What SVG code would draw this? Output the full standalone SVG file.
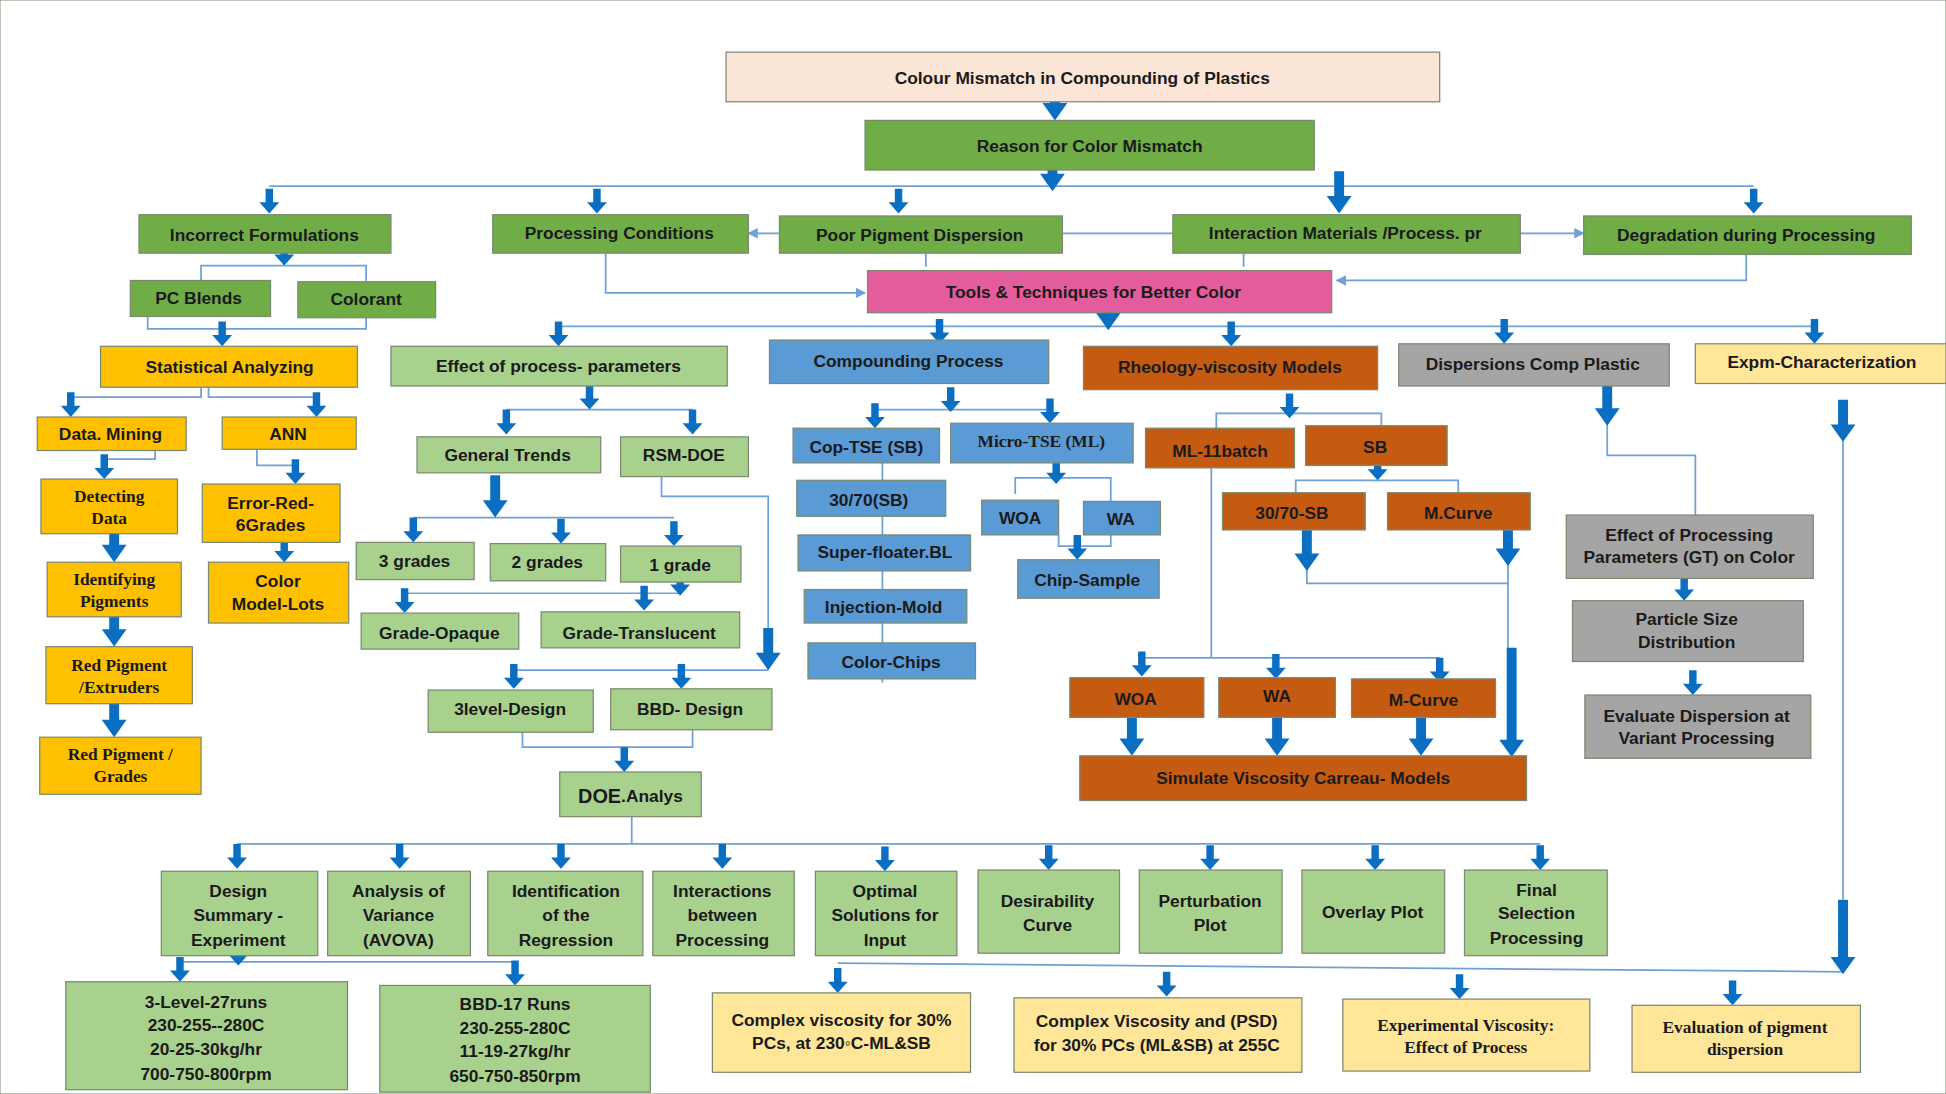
<svg xmlns="http://www.w3.org/2000/svg" xmlns:xlink="http://www.w3.org/1999/xlink" width="1946" height="1094" viewBox="0 0 1946 1094">
<style>
text{font-family:"Liberation Sans Narrow","Liberation Sans",Arial,sans-serif;font-weight:bold;fill:#1a1a1a;text-anchor:middle;dominant-baseline:central;font-size:14px}
.sf{font-family:"Liberation Serif","Times New Roman",serif}
rect{stroke:#7a8a70;stroke-width:1}
.dg{fill:#70ad47}.lg{fill:#a9d18e}.or{fill:#ffc000}.bl{fill:#5b9bd5}.ru{fill:#c55a11}.gr{fill:#a5a5a5}.ly{fill:#ffe699}
.ln{fill:none;stroke:#6fa0d6;stroke-width:1.4}
.ar{fill:#0a6fc2}
</style>
<defs>
<path id="a" d="M-3,-20 h6 v11 h5 l-8,9 l-8,-9 h5z"/>
<path id="A" d="M-4,-34 h8 v20 h6 l-10,14 l-10,-14 h6z"/>
<marker id="mk" viewBox="0 0 10 10" refX="9" refY="5" markerWidth="6" markerHeight="6" orient="auto-start-reverse"><path d="M0,0 L10,5 L0,10z" fill="#6fa0d6"/></marker>
</defs>
<rect x="0" y="0" width="1946" height="1094" fill="#fff" stroke="none"/>
<g transform="scale(1.2411)">
<g id="connectors">
<path class="ln" d="M217,150 H1413 M229,204 V214 M162,226 V214 H295 V227 M119,255 V265 H295 V256"/>
<path class="ln" d="M603,188 H628 M945,188 H856 M1225,188 H1276" marker-end="url(#mk)" marker-start="url(#mk)"/>
<path class="ln" d="M488,204 V236 H697" marker-end="url(#mk)"/>
<path class="ln" d="M1407,204 V226 H1077" marker-end="url(#mk)"/>
<path class="ln" d="M746,204 V215 M1002,204 V215 M450,263 H1462"/>
<path class="ln" d="M162,312 V320 H57 M168,312 V320 H255 M125,363 V370 H84 M207,362 V375 H238"/>
<path class="ln" d="M408,330 H558 M333,417 H543 M548,469 V478 M326,478 H548 M533,384 V400 H619 V520 M414,540 H619 M421,590 V602 H558 V588 M509,658 V680 M191,680 H1241"/>
<path class="ln" d="M145,775 H415 M675,776 L1485,783 M1485,355 V725"/>
<path class="ln" d="M705,330 H846 M711,373 V550 M818,398 V385 H895 V404 M853,431 V440 H895 V431"/>
<path class="ln" d="M980,345 V333 H1113 V343 M1044,397 V387 H1175 V397 M1053,458 V470 H1215 M1215,455 V530 M976,377 V530 M920,530 H1160 M1295,342 V367 H1366 V415"/>
<g class="ar">
<use href="#A" x="850" y="97"/><use href="#A" x="848" y="154"/>
<use href="#a" x="217" y="172"/><use href="#a" x="481" y="172"/><use href="#a" x="724" y="172"/><use href="#A" x="1079" y="172"/><use href="#a" x="1413" y="172"/>
<use href="#a" x="229" y="214"/><use href="#a" x="179" y="279"/>
<use href="#A" x="893" y="266"/>
<use href="#a" x="450" y="279"/><use href="#a" x="757" y="277"/><use href="#a" x="992" y="279"/><use href="#a" x="1212" y="277"/><use href="#a" x="1462" y="277"/>
<use href="#a" x="57" y="336"/><use href="#a" x="255" y="336"/><use href="#a" x="84" y="386"/><use href="#a" x="238" y="390"/>
<use href="#A" x="92" y="453"/><use href="#a" x="229" y="453"/><use href="#A" x="92" y="521"/><use href="#A" x="92" y="594"/>
<use href="#a" x="475" y="330"/><use href="#a" x="408" y="350"/><use href="#a" x="558" y="350"/>
<use href="#A" x="399" y="417"/><use href="#a" x="333" y="437"/><use href="#a" x="452" y="438"/><use href="#a" x="543" y="440"/>
<use href="#a" x="326" y="494"/><use href="#a" x="519" y="492"/><use href="#a" x="548" y="480"/>
<use href="#A" x="619" y="540"/><use href="#a" x="414" y="555"/><use href="#a" x="549" y="555"/><use href="#a" x="503" y="622"/>
<use href="#a" x="191" y="700"/><use href="#a" x="322" y="700"/><use href="#a" x="452" y="700"/><use href="#a" x="582" y="700"/><use href="#a" x="713" y="702"/><use href="#a" x="845" y="701"/><use href="#a" x="975" y="701"/><use href="#a" x="1108" y="701"/><use href="#a" x="1241" y="701"/>
<use href="#a" x="145" y="791"/><use href="#a" x="415" y="794"/><use href="#a" x="192" y="778"/>
<use href="#a" x="675" y="800"/><use href="#a" x="940" y="803"/><use href="#a" x="1176" y="805"/><use href="#a" x="1396" y="810"/>
<use href="#A" x="1485" y="356"/><use href="#A" x="1485" y="785"/><path d="M1481,725 h8 v30 h-8z"/>
<use href="#a" x="766" y="332"/><use href="#a" x="705" y="345"/><use href="#a" x="846" y="341"/><use href="#a" x="851" y="390"/><use href="#a" x="868" y="451"/>
<use href="#a" x="1039" y="337"/><use href="#a" x="1110" y="387"/><use href="#A" x="1053" y="460"/><use href="#A" x="1215" y="456"/>
<use href="#a" x="920" y="545"/><use href="#a" x="1028" y="547"/><use href="#a" x="1160" y="550"/>
<use href="#A" x="912" y="609"/><use href="#A" x="1029" y="609"/><use href="#A" x="1145" y="609"/>
<path d="M1214,522 h8 v74 h6 l-10,14 l-10,-14 h6z"/>
<use href="#A" x="1295" y="343"/><use href="#a" x="1357" y="484"/><use href="#a" x="1364" y="560"/>
</g>
</g>
<g id="n-title"><rect x="585" y="42" width="575" height="40" fill="#fbe5d6"/><text x="872" y="63" font-size="22">Colour Mismatch in Compounding of Plastics</text></g>
<g id="n-reason"><rect class="dg" x="697" y="97" width="362" height="40"/><text x="878" y="118" font-size="22">Reason for Color Mismatch</text></g>
<g id="n-incorrect"><rect class="dg" x="112" y="173" width="203" height="31"/><text x="213" y="189" font-size="15">Incorrect Formulations</text></g>
<g id="n-proc"><rect class="dg" x="397" y="173" width="206" height="31"/><text x="499" y="188" font-size="15">Processing Conditions</text></g>
<g id="n-poor"><rect class="dg" x="628" y="174" width="228" height="30"/><text x="741" y="189" font-size="15">Poor Pigment Dispersion</text></g>
<g id="n-inter"><rect class="dg" x="945" y="173" width="280" height="31"/><text x="1084" y="188" font-size="15">Interaction Materials /Process. pr</text></g>
<g id="n-degr"><rect class="dg" x="1276" y="174" width="264" height="31"/><text x="1407" y="189" font-size="15">Degradation during Processing</text></g>
<g id="n-pc"><rect class="dg" x="105" y="226" width="113" height="29"/><text x="160" y="240">PC Blends</text></g>
<g id="n-colorant"><rect class="dg" x="240" y="227" width="111" height="29"/><text x="295" y="241">Colorant</text></g>
<g id="n-tools"><rect x="699" y="218" width="374" height="34" fill="#e35d9c"/><text x="881" y="235" font-size="20">Tools &amp; Techniques for Better Color</text></g>
<g id="n-stat"><rect class="or" x="81" y="279" width="207" height="33"/><text x="185" y="296" font-size="15">Statistical Analyzing</text></g>
<g id="n-effect"><rect class="lg" x="315" y="279" width="271" height="32"/><text x="450" y="295" font-size="15">Effect of process- parameters</text></g>
<g id="n-comp"><rect class="bl" x="620" y="274" width="225" height="35"/><text x="732" y="291" font-size="15">Compounding Process</text></g>
<g id="n-rheo"><rect class="ru" x="873" y="279" width="237" height="35"/><text x="991" y="296" font-size="15">Rheology-viscosity Models</text></g>
<g id="n-disp"><rect class="gr" x="1127" y="277" width="218" height="34"/><text x="1235" y="293" font-size="15">Dispersions Comp Plastic</text></g>
<g id="n-expm"><rect class="ly" x="1366" y="277" width="202" height="32"/><text x="1468" y="292" font-size="15">Expm-Characterization</text></g>
<g id="n-dm"><rect class="or" x="30" y="336" width="120" height="27"/><text x="89" y="350">Data. Mining</text></g>
<g id="n-ann"><rect class="or" x="179" y="336" width="108" height="26"/><text x="232" y="350">ANN</text></g>
<g id="n-detect"><rect class="or" x="33" y="386" width="110" height="44"/><text class="sf" x="88" y="400">Detecting</text><text class="sf" x="88" y="418">Data</text></g>
<g id="n-err"><rect class="or" x="163" y="390" width="111" height="47"/><text x="218" y="405">Error-Red-</text><text x="218" y="423">6Grades</text></g>
<g id="n-ident"><rect class="or" x="38" y="453" width="108" height="44"/><text class="sf" x="92" y="467">Identifying</text><text class="sf" x="92" y="485">Pigments</text></g>
<g id="n-cml"><rect class="or" x="168" y="453" width="113" height="49"/><text x="224" y="468">Color</text><text x="224" y="487">Model-Lots</text></g>
<g id="n-rpe"><rect class="or" x="37" y="521" width="118" height="46"/><text class="sf" x="96" y="536">Red Pigment</text><text class="sf" x="96" y="554">/Extruders</text></g>
<g id="n-rpg"><rect class="or" x="32" y="594" width="130" height="46"/><text class="sf" x="97" y="608">Red Pigment /</text><text class="sf" x="97" y="626">Grades</text></g>
<g id="n-gt"><rect class="lg" x="336" y="352" width="148" height="29"/><text x="409" y="367" font-size="15">General Trends</text></g>
<g id="n-rsm"><rect class="lg" x="500" y="352" width="103" height="32"/><text x="551" y="367" font-size="15">RSM-DOE</text></g>
<g id="n-3g"><rect class="lg" x="287" y="437" width="95" height="30"/><text x="334" y="452">3 grades</text></g>
<g id="n-2g"><rect class="lg" x="395" y="438" width="93" height="30"/><text x="441" y="453">2 grades</text></g>
<g id="n-1g"><rect class="lg" x="500" y="440" width="97" height="29"/><text x="548" y="455">1 grade</text></g>
<g id="n-go"><rect class="lg" x="291" y="494" width="127" height="29"/><text x="354" y="510">Grade-Opaque</text></g>
<g id="n-gtr"><rect class="lg" x="436" y="493" width="160" height="29"/><text x="515" y="510">Grade-Translucent</text></g>
<g id="n-3l"><rect class="lg" x="345" y="556" width="133" height="34"/><text x="411" y="571">3level-Design</text></g>
<g id="n-bbd"><rect class="lg" x="492" y="555" width="130" height="33"/><text x="556" y="571">BBD- Design</text></g>
<g id="n-doe"><rect class="lg" x="451" y="622" width="114" height="36"/><text x="508" y="641"><tspan font-size="16">DOE</tspan>.Analys</text></g>
<g id="n-ds"><rect class="lg" x="130" y="702" width="126" height="68"/><text x="192" y="718">Design</text><text x="192" y="737">Summary -</text><text x="192" y="757">Experiment</text></g>
<g id="n-av"><rect class="lg" x="264" y="702" width="115" height="68"/><text x="321" y="718">Analysis of</text><text x="321" y="737">Variance</text><text x="321" y="757">(AVOVA)</text></g>
<g id="n-idr"><rect class="lg" x="393" y="702" width="125" height="68"/><text x="456" y="718">Identification</text><text x="456" y="737">of the</text><text x="456" y="757">Regression</text></g>
<g id="n-int"><rect class="lg" x="526" y="702" width="114" height="68"/><text x="582" y="718">Interactions</text><text x="582" y="737">between</text><text x="582" y="757">Processing</text></g>
<g id="n-opt"><rect class="lg" x="657" y="702" width="114" height="68"/><text x="713" y="718">Optimal</text><text x="713" y="737">Solutions for</text><text x="713" y="757">Input</text></g>
<g id="n-des"><rect class="lg" x="788" y="701" width="114" height="67"/><text x="844" y="726">Desirability</text><text x="844" y="745">Curve</text></g>
<g id="n-pert"><rect class="lg" x="918" y="701" width="115" height="67"/><text x="975" y="726">Perturbation</text><text x="975" y="745">Plot</text></g>
<g id="n-ovl"><rect class="lg" x="1049" y="701" width="115" height="67"/><text x="1106" y="735">Overlay Plot</text></g>
<g id="n-fin"><rect class="lg" x="1180" y="701" width="115" height="69"/><text x="1238" y="717">Final</text><text x="1238" y="736">Selection</text><text x="1238" y="756">Processing</text></g>
<g id="n-27"><rect class="lg" x="53" y="791" width="227" height="87"/><text x="166" y="807">3-Level-27runs</text><text x="166" y="826">230-255--280C</text><text x="166" y="845">20-25-30kg/hr</text><text x="166" y="865">700-750-800rpm</text></g>
<g id="n-17"><rect class="lg" x="306" y="794" width="218" height="86"/><text x="415" y="809">BBD-17 Runs</text><text x="415" y="828">230-255-280C</text><text x="415" y="847">11-19-27kg/hr</text><text x="415" y="867">650-750-850rpm</text></g>
<g id="n-cv1"><rect class="ly" x="574" y="800" width="208" height="64"/><text x="678" y="822">Complex viscosity for 30%</text><text x="678" y="840">PCs, at 230◦C-ML&amp;SB</text></g>
<g id="n-cv2"><rect class="ly" x="817" y="804" width="232" height="60"/><text x="932" y="823">Complex Viscosity and (PSD)</text><text x="932" y="842">for 30% PCs (ML&amp;SB) at 255C</text></g>
<g id="n-ev"><rect class="ly" x="1082" y="805" width="199" height="58"/><text class="sf" x="1181" y="826">Experimental Viscosity:</text><text class="sf" x="1181" y="844">Effect of Process</text></g>
<g id="n-evp"><rect class="ly" x="1315" y="810" width="184" height="54"/><text class="sf" x="1406" y="828">Evaluation of pigment</text><text class="sf" x="1406" y="846">dispersion</text></g>
<g id="n-cop"><rect class="bl" x="639" y="345" width="118" height="28"/><text x="698" y="360">Cop-TSE (SB)</text></g>
<g id="n-mic"><rect class="bl" x="766" y="341" width="147" height="32"/><text class="sf" x="839" y="356">Micro-TSE (ML)</text></g>
<g id="n-3070"><rect class="bl" x="642" y="387" width="120" height="29"/><text x="700" y="403">30/70(SB)</text></g>
<g id="n-sf"><rect class="bl" x="643" y="431" width="139" height="29"/><text x="713" y="445">Super-floater.BL</text></g>
<g id="n-im"><rect class="bl" x="648" y="475" width="131" height="27"/><text x="712" y="489">Injection-Mold</text></g>
<g id="n-cc"><rect class="bl" x="651" y="518" width="135" height="29"/><text x="718" y="533">Color-Chips</text></g>
<g id="n-woa1"><rect class="bl" x="791" y="403" width="62" height="28"/><text x="822" y="417">WOA</text></g>
<g id="n-wa1"><rect class="bl" x="873" y="404" width="62" height="27"/><text x="903" y="418">WA</text></g>
<g id="n-chip"><rect class="bl" x="820" y="451" width="114" height="31"/><text x="876" y="467">Chip-Sample</text></g>
<g id="n-ml11"><rect class="ru" x="923" y="345" width="120" height="32"/><text x="983" y="363" font-size="15">ML-11batch</text></g>
<g id="n-sb"><rect class="ru" x="1052" y="343" width="114" height="32"/><text x="1108" y="360" font-size="15">SB</text></g>
<g id="n-3070sb"><rect class="ru" x="985" y="397" width="115" height="30"/><text x="1041" y="413" font-size="15">30/70-SB</text></g>
<g id="n-mcurve"><rect class="ru" x="1118" y="397" width="115" height="30"/><text x="1175" y="413" font-size="15">M.Curve</text></g>
<g id="n-woa2"><rect class="ru" x="862" y="546" width="108" height="32"/><text x="915" y="563" font-size="16">WOA</text></g>
<g id="n-wa2"><rect class="ru" x="982" y="546" width="94" height="32"/><text x="1029" y="561" font-size="15">WA</text></g>
<g id="n-mc2"><rect class="ru" x="1089" y="547" width="116" height="31"/><text x="1147" y="564" font-size="15">M-Curve</text></g>
<g id="n-sim"><rect class="ru" x="870" y="609" width="360" height="36"/><text x="1050" y="627" font-size="15">Simulate Viscosity Carreau-   Models</text></g>
<g id="n-epp"><rect class="gr" x="1262" y="415" width="199" height="51"/><text x="1361" y="431">Effect of Processing</text><text x="1361" y="449">Parameters (GT) on Color</text></g>
<g id="n-psd"><rect class="gr" x="1267" y="484" width="186" height="49"/><text x="1359" y="499">Particle Size</text><text x="1359" y="517">Distribution</text></g>
<g id="n-edv"><rect class="gr" x="1277" y="560" width="182" height="51"/><text x="1367" y="577">Evaluate Dispersion at</text><text x="1367" y="595">Variant Processing</text></g>
</g>
</svg>
